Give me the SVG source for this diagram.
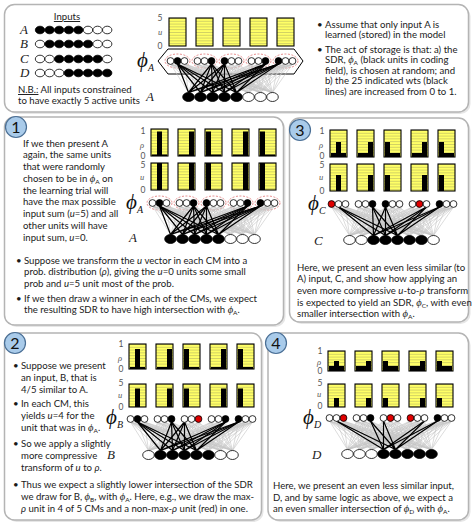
<svg xmlns="http://www.w3.org/2000/svg" width="474" height="527" viewBox="0 0 474 527">
<style>
.pn{fill:#fff;stroke:#b4b4b4;stroke-width:1.5}
.sh{fill:#e6e6e6}
.num{fill:#a9cbea;stroke:#4a6f95;stroke-width:1.2}
.numt{font-family:Lato,'Liberation Sans',sans-serif;font-size:16px;fill:#111;text-anchor:middle}
.t{font-family:Lato,'Liberation Sans',sans-serif;font-size:9.6px;fill:#1a1a1a}
.i{font-style:italic}
.ps{font-family:'Liberation Serif',serif;font-style:italic;font-size:10.5px}
.sb{font-size:6.5px}
.ax{font-family:Lato,'Liberation Sans',sans-serif;font-size:8.5px;fill:#555;text-anchor:middle}
.axi{font-family:'Liberation Serif',serif;font-style:italic;font-size:8.5px;fill:#555;text-anchor:middle}
.lab{font-family:'Liberation Serif',serif;font-style:italic;font-size:13px;fill:#222}
.phi{font-family:'Liberation Serif',serif;font-style:italic;font-size:21px;fill:#111}
.phs{font-size:10px}
.bar{fill:url(#yb);stroke:#000;stroke-width:1.1}
.bin{fill:#000}
.cu{stroke:#000;stroke-width:0.8;fill:#fff}
.iu{stroke:#000;stroke-width:0.8;fill:#fff}
.on{fill:#000}
.red{fill:#e00000}
.cm{fill:none;stroke:#e07070;stroke-width:0.8;stroke-dasharray:2 1.5}
.hex{fill:#fff;stroke:#000;stroke-width:1}
.ul{text-decoration:underline}
</style>
<defs>
<pattern id="yb" width="6" height="2.8" patternUnits="userSpaceOnUse"><rect width="6" height="2.8" fill="#ffff66"/><rect width="6" height="0.5" fill="#a8a860"/></pattern>
<path id="gf" fill="none" stroke="#c4c4c4" stroke-width="0.6" vector-effect="non-scaling-stroke" d="M11,31.5L-7,3M11,31.5L0,3M11,31.5L7,3M11,31.5L20,3M11,31.5L27,3M11,31.5L34,3M11,31.5L47,3M11,31.5L54,3M11,31.5L61,3M11,31.5L74,3M11,31.5L81,3M11,31.5L88,3M11,31.5L101,3M11,31.5L108,3M11,31.5L115,3"/>
<g id="gnet">
<use href="#gf"/>
<use href="#gf" transform="matrix(1,0,0.421053,1,-1.263158,0)"/>
<use href="#gf" transform="matrix(1,0,0.842105,1,-2.526316,0)"/>
<use href="#gf" transform="matrix(1,0,1.263158,1,-3.789474,0)"/>
<use href="#gf" transform="matrix(1,0,1.684211,1,-5.052632,0)"/>
<use href="#gf" transform="matrix(1,0,2.105263,1,-6.315789,0)"/>
<use href="#gf" transform="matrix(1,0,2.526316,1,-7.578947,0)"/>
<use href="#gf" transform="matrix(1,0,2.947368,1,-8.842105,0)"/>
</g>
<path id="bk0" fill="none" stroke="#000" stroke-width="1.2" vector-effect="non-scaling-stroke" d="M11,31.5L0,3M11,31.5L34,3M11,31.5L47,3M11,31.5L88,3M11,31.5L101,3"/>
<use id="bk1" href="#bk0" transform="matrix(1,0,0.421053,1,-1.263158,0)"/>
<use id="bk2" href="#bk0" transform="matrix(1,0,0.842105,1,-2.526316,0)"/>
<use id="bk3" href="#bk0" transform="matrix(1,0,1.263158,1,-3.789474,0)"/>
<use id="bk4" href="#bk0" transform="matrix(1,0,1.684211,1,-5.052632,0)"/>
<path id="tallx" d="M-2.5,0h5v1h-5zM29.5,0h5v1h-5zM46.5,0h5v1h-5zM83.5,0h5v1h-5zM100.5,0h5v1h-5z"/>
<path id="smallx" d="M-7.5,0h5v1h-5zM2.5,0h5v1h-5zM19.5,0h5v1h-5zM24.5,0h5v1h-5zM51.5,0h5v1h-5zM56.5,0h5v1h-5zM73.5,0h5v1h-5zM78.5,0h5v1h-5zM105.5,0h5v1h-5zM110.5,0h5v1h-5z"/>
<g id="b28" class="bar"><rect x="-8.5" width="17" height="28"/><rect x="18.5" width="17" height="28"/><rect x="45.5" width="17" height="28"/><rect x="72.5" width="17" height="28"/><rect x="99.5" width="17" height="28"/></g>
<g id="b27" class="bar"><rect x="-8.5" width="17" height="27"/><rect x="18.5" width="17" height="27"/><rect x="45.5" width="17" height="27"/><rect x="72.5" width="17" height="27"/><rect x="99.5" width="17" height="27"/></g>
<g id="b25" class="bar"><rect x="-8.5" width="17" height="25"/><rect x="18.5" width="17" height="25"/><rect x="45.5" width="17" height="25"/><rect x="72.5" width="17" height="25"/><rect x="99.5" width="17" height="25"/></g>
<g id="b23" class="bar"><rect x="-8.5" width="17" height="23"/><rect x="18.5" width="17" height="23"/><rect x="45.5" width="17" height="23"/><rect x="72.5" width="17" height="23"/><rect x="99.5" width="17" height="23"/></g>
<g id="b20" class="bar"><rect x="-8.5" width="17" height="20"/><rect x="18.5" width="17" height="20"/><rect x="45.5" width="17" height="20"/><rect x="72.5" width="17" height="20"/><rect x="99.5" width="17" height="20"/></g>
</defs>

<g id="panels">
<rect class="sh" x="6.5" y="6.5" width="464" height="107.5" rx="10"/>
<rect class="pn" x="4.5" y="4.5" width="464" height="107.5" rx="10"/>
<rect class="sh" x="6.5" y="119" width="279" height="208" rx="10"/>
<rect class="pn" x="4.5" y="117" width="279" height="208" rx="10"/>
<rect class="sh" x="291.5" y="120" width="179" height="204" rx="10"/>
<rect class="pn" x="289.5" y="118" width="179" height="204" rx="10"/>
<rect class="sh" x="6.5" y="335" width="257" height="187" rx="10"/>
<rect class="pn" x="4.5" y="333" width="257" height="187" rx="10"/>
<rect class="sh" x="270" y="335" width="200.5" height="187" rx="10"/>
<rect class="pn" x="268" y="333" width="200.5" height="187" rx="10"/>
</g>

<g id="badges">
<circle class="num" cx="16" cy="127" r="10.5"/><text class="numt" x="16" y="132.5">1</text>
<circle class="num" cx="300" cy="130" r="10.5"/><text class="numt" x="300" y="135.5">3</text>
<circle class="num" cx="15" cy="343" r="10.5"/><text class="numt" x="15" y="348.5">2</text>
<circle class="num" cx="276" cy="343" r="10.5"/><text class="numt" x="276" y="348.5">4</text>
</g>

<g id="inputs-legend">
<text class="t ul" x="67" y="20" text-anchor="middle" font-size="12">Inputs</text>
<text class="lab" x="20" y="34" font-size="12">A</text>
<text class="lab" x="20" y="48" font-size="12">B</text>
<text class="lab" x="20" y="63" font-size="12">C</text>
<text class="lab" x="20" y="77" font-size="12">D</text>
<g id="row-A">
<ellipse class="iu on" cx="40" cy="30" rx="4.7" ry="3.8"/><ellipse class="iu on" cx="49.6" cy="30" rx="4.7" ry="3.8"/><ellipse class="iu on" cx="59.2" cy="30" rx="4.7" ry="3.8"/><ellipse class="iu on" cx="68.8" cy="30" rx="4.7" ry="3.8"/><ellipse class="iu on" cx="78.4" cy="30" rx="4.7" ry="3.8"/><ellipse class="iu" cx="88" cy="30" rx="4.7" ry="3.8"/><ellipse class="iu" cx="97.6" cy="30" rx="4.7" ry="3.8"/><ellipse class="iu" cx="107.2" cy="30" rx="4.7" ry="3.8"/>
</g>
<g id="row-B">
<ellipse class="iu" cx="40" cy="44" rx="4.7" ry="3.8"/><ellipse class="iu on" cx="49.6" cy="44" rx="4.7" ry="3.8"/><ellipse class="iu on" cx="59.2" cy="44" rx="4.7" ry="3.8"/><ellipse class="iu on" cx="68.8" cy="44" rx="4.7" ry="3.8"/><ellipse class="iu on" cx="78.4" cy="44" rx="4.7" ry="3.8"/><ellipse class="iu on" cx="88" cy="44" rx="4.7" ry="3.8"/><ellipse class="iu" cx="97.6" cy="44" rx="4.7" ry="3.8"/><ellipse class="iu" cx="107.2" cy="44" rx="4.7" ry="3.8"/>
</g>
<g id="row-C">
<ellipse class="iu" cx="40" cy="59" rx="4.7" ry="3.8"/><ellipse class="iu" cx="49.6" cy="59" rx="4.7" ry="3.8"/><ellipse class="iu on" cx="59.2" cy="59" rx="4.7" ry="3.8"/><ellipse class="iu on" cx="68.8" cy="59" rx="4.7" ry="3.8"/><ellipse class="iu on" cx="78.4" cy="59" rx="4.7" ry="3.8"/><ellipse class="iu on" cx="88" cy="59" rx="4.7" ry="3.8"/><ellipse class="iu on" cx="97.6" cy="59" rx="4.7" ry="3.8"/><ellipse class="iu" cx="107.2" cy="59" rx="4.7" ry="3.8"/>
</g>
<g id="row-D">
<ellipse class="iu" cx="40" cy="73" rx="4.7" ry="3.8"/><ellipse class="iu" cx="49.6" cy="73" rx="4.7" ry="3.8"/><ellipse class="iu" cx="59.2" cy="73" rx="4.7" ry="3.8"/><ellipse class="iu on" cx="68.8" cy="73" rx="4.7" ry="3.8"/><ellipse class="iu on" cx="78.4" cy="73" rx="4.7" ry="3.8"/><ellipse class="iu on" cx="88" cy="73" rx="4.7" ry="3.8"/><ellipse class="iu on" cx="97.6" cy="73" rx="4.7" ry="3.8"/><ellipse class="iu on" cx="107.2" cy="73" rx="4.7" ry="3.8"/>
</g>
<text class="t" x="18" y="93"><tspan class="ul">N.B.:</tspan> All inputs constrained</text>
<text class="t" x="18" y="104">to have exactly 5 active units</text>
</g>

<g id="top-fields" transform="translate(177.5,61)">
<use href="#b28" y="-43"/>
<polygon class="hex" points="-19.5,0 -9.5,-12 116.5,-12 125.5,0 116.5,13 -9.5,13"/>
<ellipse class="cm" cx="0" cy="0" rx="12.5" ry="7"/><ellipse class="cm" cx="27" cy="0" rx="12.5" ry="7"/><ellipse class="cm" cx="54" cy="0" rx="12.5" ry="7"/><ellipse class="cm" cx="81" cy="0" rx="12.5" ry="7"/><ellipse class="cm" cx="108" cy="0" rx="12.5" ry="7"/>
</g>
<g id="p1-fields" transform="translate(159.5,203)">
<use href="#b27" y="-74"/>
<use href="#b27" y="-40"/>
<use href="#tallx" class="bin" transform="translate(0,-71.5) scale(1,24.5)"/>
<use href="#smallx" class="bin" transform="translate(0,-48.5) scale(1,1.5)"/>
<use href="#tallx" class="bin" transform="translate(0,-40) scale(1,27)"/>
<ellipse class="cm" cx="0" cy="0" rx="12.5" ry="7"/><ellipse class="cm" cx="27" cy="0" rx="12.5" ry="7"/><ellipse class="cm" cx="54" cy="0" rx="12.5" ry="7"/><ellipse class="cm" cx="81" cy="0" rx="12.5" ry="7"/><ellipse class="cm" cx="108" cy="0" rx="12.5" ry="7"/>
</g>
<g id="p3-fields" transform="translate(338.5,204)">
<use href="#b27" y="-74"/>
<use href="#b27" y="-40"/>
<use href="#tallx" class="bin" transform="translate(0,-62) scale(1,15)"/>
<use href="#smallx" class="bin" transform="translate(0,-51) scale(1,4)"/>
<use href="#tallx" class="bin" transform="translate(0,-29) scale(1,16)"/>
</g>
<g id="p2-fields" transform="translate(137.5,419)">
<use href="#b25" y="-75"/>
<use href="#b23" y="-35"/>
<use href="#tallx" class="bin" transform="translate(0,-70) scale(1,20)"/>
<use href="#smallx" class="bin" transform="translate(0,-52) scale(1,2)"/>
<use href="#tallx" class="bin" transform="translate(0,-30.5) scale(1,18.5)"/>
</g>
<g id="p4-fields" transform="translate(336.5,418)">
<use href="#b20" y="-67"/>
<use href="#b23" y="-34"/>
<use href="#tallx" class="bin" transform="translate(0,-57) scale(1,10)"/>
<use href="#smallx" class="bin" transform="translate(0,-52) scale(1,5)"/>
<use href="#tallx" class="bin" transform="translate(0,-20) scale(1,9)"/>
</g>

<g id="connectors">
<g transform="translate(177.5,61)"><use href="#gnet"/><use href="#bk0"/><use href="#bk1"/><use href="#bk2"/><use href="#bk3"/><use href="#bk4"/></g>
<g transform="translate(159.5,203)"><use href="#gnet"/><use href="#bk0"/><use href="#bk1"/><use href="#bk2"/><use href="#bk3"/><use href="#bk4"/></g>
<g transform="translate(338.5,204)"><use href="#gnet"/><use href="#bk2"/><use href="#bk3"/><use href="#bk4"/></g>
<g transform="translate(137.5,419)"><use href="#gnet"/><use href="#bk1"/><use href="#bk2"/><use href="#bk3"/><use href="#bk4"/></g>
<g transform="translate(336.5,418)"><use href="#gnet"/><use href="#bk3"/><use href="#bk4"/></g>
</g>

<g id="top-units" transform="translate(177.5,61)">
<circle class="cu" cx="-7" r="3.4"/><circle class="cu on" cx="0" r="3.4"/><circle class="cu" cx="7" r="3.4"/>
<circle class="cu" cx="20" r="3.4"/><circle class="cu" cx="27" r="3.4"/><circle class="cu on" cx="34" r="3.4"/>
<circle class="cu on" cx="47" r="3.4"/><circle class="cu" cx="54" r="3.4"/><circle class="cu" cx="61" r="3.4"/>
<circle class="cu" cx="74" r="3.4"/><circle class="cu" cx="81" r="3.4"/><circle class="cu on" cx="88" r="3.4"/>
<circle class="cu on" cx="101" r="3.4"/><circle class="cu" cx="108" r="3.4"/><circle class="cu" cx="115" r="3.4"/>
<ellipse class="iu on" cx="11" cy="36" rx="5.8" ry="4.5"/><ellipse class="iu on" cx="23" cy="36" rx="5.8" ry="4.5"/><ellipse class="iu on" cx="35" cy="36" rx="5.8" ry="4.5"/><ellipse class="iu on" cx="47" cy="36" rx="5.8" ry="4.5"/><ellipse class="iu on" cx="59" cy="36" rx="5.8" ry="4.5"/><ellipse class="iu" cx="71" cy="36" rx="5.8" ry="4.5"/><ellipse class="iu" cx="83" cy="36" rx="5.8" ry="4.5"/><ellipse class="iu" cx="95" cy="36" rx="5.8" ry="4.5"/>
</g>
<g id="p1-units" transform="translate(159.5,203)">
<circle class="cu" cx="-7" r="3.4"/><circle class="cu on" cx="0" r="3.4"/><circle class="cu" cx="7" r="3.4"/>
<circle class="cu" cx="20" r="3.4"/><circle class="cu" cx="27" r="3.4"/><circle class="cu on" cx="34" r="3.4"/>
<circle class="cu on" cx="47" r="3.4"/><circle class="cu" cx="54" r="3.4"/><circle class="cu" cx="61" r="3.4"/>
<circle class="cu" cx="74" r="3.4"/><circle class="cu" cx="81" r="3.4"/><circle class="cu on" cx="88" r="3.4"/>
<circle class="cu on" cx="101" r="3.4"/><circle class="cu" cx="108" r="3.4"/><circle class="cu" cx="115" r="3.4"/>
<ellipse class="iu on" cx="11" cy="36" rx="5.8" ry="4.5"/><ellipse class="iu on" cx="23" cy="36" rx="5.8" ry="4.5"/><ellipse class="iu on" cx="35" cy="36" rx="5.8" ry="4.5"/><ellipse class="iu on" cx="47" cy="36" rx="5.8" ry="4.5"/><ellipse class="iu on" cx="59" cy="36" rx="5.8" ry="4.5"/><ellipse class="iu" cx="71" cy="36" rx="5.8" ry="4.5"/><ellipse class="iu" cx="83" cy="36" rx="5.8" ry="4.5"/><ellipse class="iu" cx="95" cy="36" rx="5.8" ry="4.5"/>
</g>
<g id="p3-units" transform="translate(338.5,204)">
<circle class="cu red" cx="-7" r="3.4"/><circle class="cu" cx="0" r="3.4"/><circle class="cu" cx="7" r="3.4"/>
<circle class="cu" cx="20" r="3.4"/><circle class="cu" cx="27" r="3.4"/><circle class="cu on" cx="34" r="3.4"/>
<circle class="cu on" cx="47" r="3.4"/><circle class="cu" cx="54" r="3.4"/><circle class="cu" cx="61" r="3.4"/>
<circle class="cu" cx="74" r="3.4"/><circle class="cu red" cx="81" r="3.4"/><circle class="cu" cx="88" r="3.4"/>
<circle class="cu on" cx="101" r="3.4"/><circle class="cu" cx="108" r="3.4"/><circle class="cu" cx="115" r="3.4"/>
<ellipse class="iu" cx="11" cy="36" rx="5.8" ry="4.5"/><ellipse class="iu" cx="23" cy="36" rx="5.8" ry="4.5"/><ellipse class="iu on" cx="35" cy="36" rx="5.8" ry="4.5"/><ellipse class="iu on" cx="47" cy="36" rx="5.8" ry="4.5"/><ellipse class="iu on" cx="59" cy="36" rx="5.8" ry="4.5"/><ellipse class="iu on" cx="71" cy="36" rx="5.8" ry="4.5"/><ellipse class="iu on" cx="83" cy="36" rx="5.8" ry="4.5"/><ellipse class="iu" cx="95" cy="36" rx="5.8" ry="4.5"/>
</g>
<g id="p2-units" transform="translate(137.5,419)">
<circle class="cu" cx="-7" r="3.4"/><circle class="cu on" cx="0" r="3.4"/><circle class="cu" cx="7" r="3.4"/>
<circle class="cu" cx="20" r="3.4"/><circle class="cu" cx="27" r="3.4"/><circle class="cu on" cx="34" r="3.4"/>
<circle class="cu" cx="47" r="3.4"/><circle class="cu" cx="54" r="3.4"/><circle class="cu red" cx="61" r="3.4"/>
<circle class="cu" cx="74" r="3.4"/><circle class="cu" cx="81" r="3.4"/><circle class="cu on" cx="88" r="3.4"/>
<circle class="cu on" cx="101" r="3.4"/><circle class="cu" cx="108" r="3.4"/><circle class="cu" cx="115" r="3.4"/>
<ellipse class="iu" cx="11" cy="36" rx="5.8" ry="4.5"/><ellipse class="iu on" cx="23" cy="36" rx="5.8" ry="4.5"/><ellipse class="iu on" cx="35" cy="36" rx="5.8" ry="4.5"/><ellipse class="iu on" cx="47" cy="36" rx="5.8" ry="4.5"/><ellipse class="iu on" cx="59" cy="36" rx="5.8" ry="4.5"/><ellipse class="iu on" cx="71" cy="36" rx="5.8" ry="4.5"/><ellipse class="iu" cx="83" cy="36" rx="5.8" ry="4.5"/><ellipse class="iu" cx="95" cy="36" rx="5.8" ry="4.5"/>
</g>
<g id="p4-units" transform="translate(336.5,418)">
<circle class="cu" cx="-7" r="3.4"/><circle class="cu" cx="0" r="3.4"/><circle class="cu red" cx="7" r="3.4"/>
<circle class="cu" cx="20" r="3.4"/><circle class="cu" cx="27" r="3.4"/><circle class="cu on" cx="34" r="3.4"/>
<circle class="cu" cx="47" r="3.4"/><circle class="cu red" cx="54" r="3.4"/><circle class="cu" cx="61" r="3.4"/>
<circle class="cu red" cx="74" r="3.4"/><circle class="cu" cx="81" r="3.4"/><circle class="cu" cx="88" r="3.4"/>
<circle class="cu on" cx="101" r="3.4"/><circle class="cu" cx="108" r="3.4"/><circle class="cu" cx="115" r="3.4"/>
<ellipse class="iu" cx="11" cy="36" rx="5.8" ry="4.5"/><ellipse class="iu" cx="23" cy="36" rx="5.8" ry="4.5"/><ellipse class="iu" cx="35" cy="36" rx="5.8" ry="4.5"/><ellipse class="iu on" cx="47" cy="36" rx="5.8" ry="4.5"/><ellipse class="iu on" cx="59" cy="36" rx="5.8" ry="4.5"/><ellipse class="iu on" cx="71" cy="36" rx="5.8" ry="4.5"/><ellipse class="iu on" cx="83" cy="36" rx="5.8" ry="4.5"/><ellipse class="iu on" cx="95" cy="36" rx="5.8" ry="4.5"/>
</g>

<g id="axis-labels">
<text class="ax" x="160" y="21">5</text><text class="axi" x="160" y="35">u</text><text class="ax" x="160" y="49">0</text>
<text class="ax" x="143" y="134">1</text><text class="axi" x="142" y="148">ρ</text><text class="ax" x="143" y="159">0</text>
<text class="ax" x="143" y="168">5</text><text class="axi" x="142" y="180">u</text><text class="ax" x="143" y="193">0</text>
<text class="ax" x="322" y="134">1</text><text class="axi" x="321" y="148">ρ</text><text class="ax" x="322" y="159">0</text>
<text class="ax" x="322" y="168">5</text><text class="axi" x="321" y="180">u</text><text class="ax" x="322" y="194">0</text>
<text class="ax" x="121" y="347">1</text><text class="axi" x="120" y="361">ρ</text><text class="ax" x="121" y="372">0</text>
<text class="ax" x="121" y="386">5</text><text class="axi" x="120" y="398">u</text><text class="ax" x="121" y="410">0</text>
<text class="ax" x="320" y="354">1</text><text class="axi" x="319" y="365">ρ</text><text class="ax" x="320" y="374">0</text>
<text class="ax" x="320" y="386">5</text><text class="axi" x="319" y="397">u</text><text class="ax" x="320" y="409">0</text>
</g>

<g id="field-labels">
<text class="phi" x="137" y="67">ϕ<tspan class="phs" dy="4">A</tspan></text>
<text class="lab" x="146" y="101">A</text>
<text class="phi" x="126" y="209">ϕ<tspan class="phs" dy="4">A</tspan></text>
<text class="lab" x="129" y="242">A</text>
<text class="phi" x="308" y="210">ϕ<tspan class="phs" dy="4">C</tspan></text>
<text class="lab" x="314" y="245">C</text>
<text class="phi" x="106" y="424">ϕ<tspan class="phs" dy="4">B</tspan></text>
<text class="lab" x="107" y="459">B</text>
<text class="phi" x="303" y="424">ϕ<tspan class="phs" dy="4">D</tspan></text>
<text class="lab" x="312" y="459">D</text>
</g>

<g id="text-top">
<text class="t" x="317" y="27.5">•</text><text class="t" x="325" y="27.5">Assume that only input A is</text>
<text class="t" x="325" y="38">learned (stored) in the model</text>
<text class="t" x="317" y="52.5">•</text><text class="t" x="325" y="52.5">The act of storage is that: a) the</text>
<text class="t" x="325" y="63">SDR, <tspan class="ps">ϕ</tspan><tspan class="sb" dy="2">A</tspan><tspan dy="-2"> (black units in coding</tspan></text>
<text class="t" x="325" y="73.5">field), is chosen at random; and</text>
<text class="t" x="325" y="84">b) the 25 indicated wts (black</text>
<text class="t" x="325" y="94.5">lines) are increased from 0 to 1.</text>
</g>

<g id="text-p1">
<text class="t" x="23" y="146.5">If we then present A</text>
<text class="t" x="23" y="158.3">again, the same units</text>
<text class="t" x="23" y="170">that were randomly</text>
<text class="t" x="23" y="181.8">chosen to be in <tspan class="ps">ϕ</tspan><tspan class="sb" dy="2">A</tspan><tspan dy="-2"> on</tspan></text>
<text class="t" x="23" y="193.5">the learning trial will</text>
<text class="t" x="23" y="205.3">have the max possible</text>
<text class="t" x="23" y="217">input sum (<tspan class="i">u</tspan>=5) and all</text>
<text class="t" x="23" y="228.8">other units will have</text>
<text class="t" x="23" y="240.5">input sum, <tspan class="i">u</tspan>=0.</text>
<text class="t" x="16" y="263.5">•</text><text class="t" x="24" y="263.5">Suppose we transform the <tspan class="i">u</tspan> vector in each CM into a</text>
<text class="t" x="24" y="275.3">prob. distribution (<tspan class="i">ρ</tspan>), giving the <tspan class="i">u</tspan>=0 units some small</text>
<text class="t" x="24" y="287">prob and <tspan class="i">u</tspan>=5 unit most of the prob.</text>
<text class="t" x="16" y="301.5">•</text><text class="t" x="24" y="301.5">If we then draw a winner in each of the CMs, we expect</text>
<text class="t" x="24" y="313.3">the resulting SDR to have high intersection with <tspan class="ps">ϕ</tspan><tspan class="sb" dy="2">A</tspan><tspan dy="-2">.</tspan></text>
</g>

<g id="text-p3">
<text class="t" x="297" y="270.5">Here, we present an even less similar (to</text>
<text class="t" x="297" y="282.2">A) input, C, and show how applying an</text>
<text class="t" x="297" y="294">even more compressive <tspan class="i">u</tspan>-to-<tspan class="i">ρ</tspan> transform</text>
<text class="t" x="297" y="305.7">is expected to yield an SDR, <tspan class="ps">ϕ</tspan><tspan class="sb" dy="2">C</tspan><tspan dy="-2">, with even</tspan></text>
<text class="t" x="297" y="317.4">smaller intersection with <tspan class="ps">ϕ</tspan><tspan class="sb" dy="2">A</tspan><tspan dy="-2">.</tspan></text>
</g>

<g id="text-p2">
<text class="t" x="13" y="369">•</text><text class="t" x="21" y="369">Suppose we present</text>
<text class="t" x="21" y="381">an input, B, that is</text>
<text class="t" x="21" y="393">4/5 similar to A.</text>
<text class="t" x="13" y="407">•</text><text class="t" x="21" y="407">In each CM, this</text>
<text class="t" x="21" y="419">yields <tspan class="i">u</tspan>=4 for the</text>
<text class="t" x="21" y="431">unit that was in <tspan class="ps">ϕ</tspan><tspan class="sb" dy="2">A</tspan><tspan dy="-2">.</tspan></text>
<text class="t" x="13" y="447">•</text><text class="t" x="21" y="447">So we apply a slightly</text>
<text class="t" x="21" y="459">more compressive</text>
<text class="t" x="21" y="471">transform of <tspan class="i">u</tspan> to <tspan class="i">ρ</tspan>.</text>
<text class="t" x="13" y="488">•</text><text class="t" x="21" y="488">Thus we expect a slightly lower intersection of the SDR</text>
<text class="t" x="21" y="500">we draw for B, <tspan class="ps">ϕ</tspan><tspan class="sb" dy="2">B</tspan><tspan dy="-2">, with </tspan><tspan class="ps">ϕ</tspan><tspan class="sb" dy="2">A</tspan><tspan dy="-2">. Here, e.g., we draw the max-</tspan></text>
<text class="t" x="21" y="512"><tspan class="i">ρ</tspan> unit in 4 of 5 CMs and a non-max-<tspan class="i">ρ</tspan> unit (red) in one.</text>
</g>

<g id="text-p4">
<text class="t" x="273" y="488.5">Here, we present an even less similar input,</text>
<text class="t" x="273" y="500.5">D, and by same logic as above, we expect a</text>
<text class="t" x="273" y="512">an even smaller intersection of <tspan class="ps">ϕ</tspan><tspan class="sb" dy="2">D</tspan><tspan dy="-2"> with </tspan><tspan class="ps">ϕ</tspan><tspan class="sb" dy="2">A</tspan><tspan dy="-2">.</tspan></text>
</g>
</svg>
